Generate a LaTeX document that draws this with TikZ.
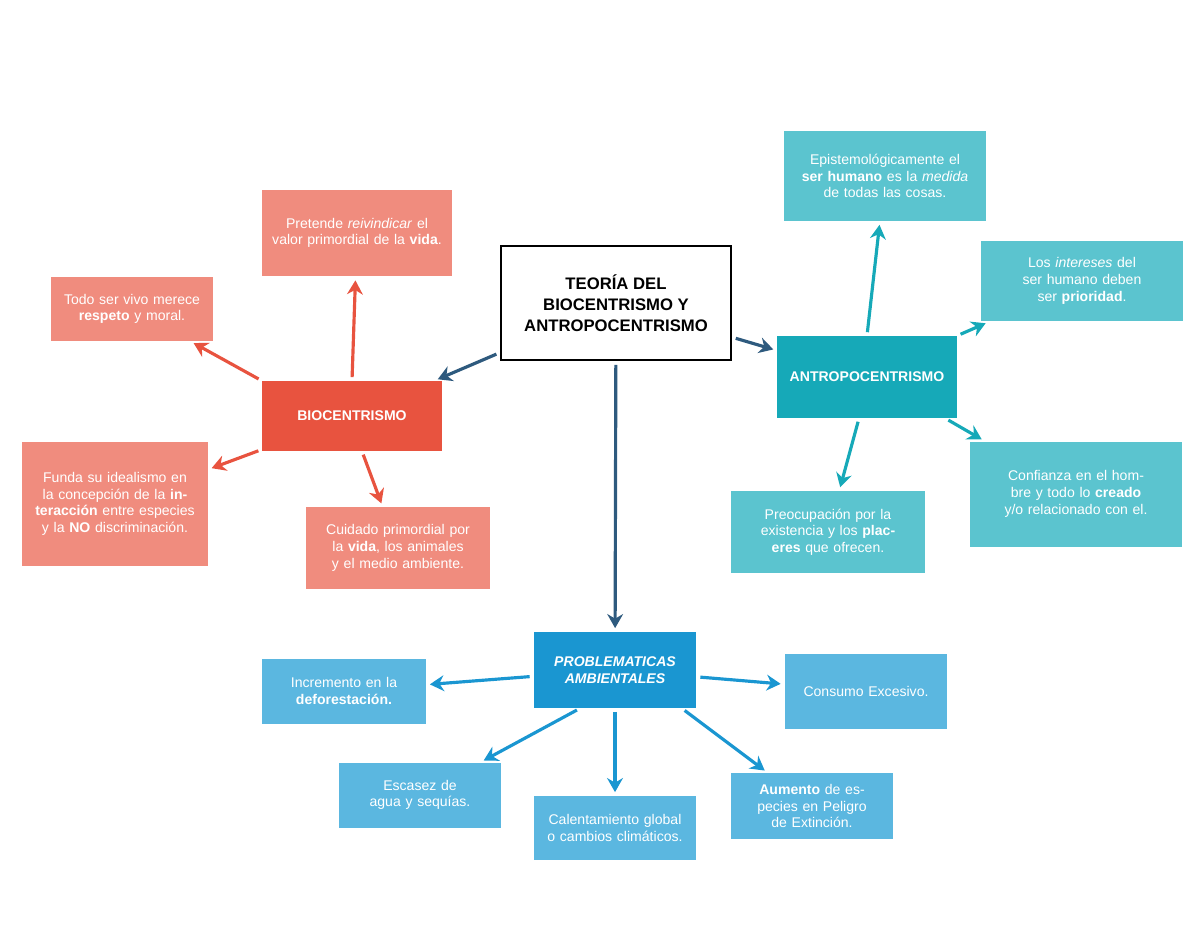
\documentclass[tikz,border=0pt]{standalone}
\usepackage{fontspec}
\setmainfont{Liberation Sans}
\usetikzlibrary{arrows.meta}
\definecolor{bioc}{HTML}{E8533F}
\definecolor{biol}{HTML}{F08C7E}
\definecolor{antc}{HTML}{16A9B8}
\definecolor{antl}{HTML}{5BC4CF}
\definecolor{proc}{HTML}{1A96D1}
\definecolor{prol}{HTML}{5BB7E0}
\definecolor{tit}{HTML}{2E5A7E}
\tikzset{
  box/.style={draw=none,text=white,align=center,inner sep=0pt,font=\fontsize{8}{9.5}\selectfont},
  arr/.style={line width=1.8pt,-{Stealth[length=8pt,width=9pt]},shorten <=2pt,shorten >=2pt}
}
\begin{document}
\begin{tikzpicture}[x=0.02cm,y=-0.02cm]
\useasboundingbox (0,0) rectangle (1200,927);
% centre
\node[draw=black,line width=1.6pt,fill=white,align=center,minimum width=4.6cm,minimum height=2.28cm,font=\bfseries\fontsize{9.5}{12}\selectfont] (tit) at (616,303) {TEORÍA DEL\\BIOCENTRISMO Y\\ANTROPOCENTRISMO};
\node[box,fill=bioc,minimum width=3.6cm,minimum height=1.4cm,font=\bfseries\fontsize{8}{9.5}\selectfont] (bio) at (352,416) {BIOCENTRISMO};
\node[box,fill=antc,minimum width=3.6cm,minimum height=1.64cm,font=\bfseries\fontsize{8}{9.5}\selectfont] (ant) at (867,377) {ANTROPOCENTRISMO};
\node[box,fill=proc,minimum width=3.26cm,minimum height=1.52cm,font=\bfseries\itshape\fontsize{8}{9.5}\selectfont] (pro) at (615,670) {PROBLEMATICAS\\AMBIENTALES};
% biocentrismo
\node[box,fill=biol,minimum width=3.82cm,minimum height=1.74cm,text width=3.4cm] (pret) at (357,233) {Pretende \emph{reivindicar} el valor primordial de la \textbf{vida}.};
\node[box,fill=biol,minimum width=3.26cm,minimum height=1.28cm,text width=2.9cm] (todo) at (132,309) {Todo ser vivo merece \textbf{respeto} y moral.};
\node[box,fill=biol,minimum width=3.72cm,minimum height=2.5cm,text width=3.4cm] (fund) at (115,504) {Funda su idealismo en la concepción de la \textbf{interacción} entre especies y la \textbf{NO} discriminación.};
\node[box,fill=biol,minimum width=3.7cm,minimum height=1.64cm,text width=3.3cm] (cuid) at (398,548) {Cuidado primordial por la \textbf{vida}, los animales y el medio ambiente.};
% antropocentrismo
\node[box,fill=antl,minimum width=4.04cm,minimum height=1.8cm,text width=3.4cm] (epis) at (885,176) {Epistemológicamente el \textbf{ser humano} es la \emph{medida} de todas las cosas.};
\node[box,fill=antl,minimum width=4.04cm,minimum height=1.62cm,text width=3cm] (inte) at (1082,281) {Los \emph{intereses} del ser humano deben ser \textbf{prioridad}.};
\node[box,fill=antl,minimum width=4.26cm,minimum height=2.1cm,text width=3.6cm] (conf) at (1076,494) {Confianza en el hombre y todo lo \textbf{creado} y/o relacionado con el.};
\node[box,fill=antl,minimum width=3.9cm,minimum height=1.64cm,text width=3.4cm] (preo) at (828,532) {Preocupación por la existencia y los \textbf{placeres} que ofrecen.};
% problematicas
\node[box,fill=prol,minimum width=3.28cm,minimum height=1.3cm,text width=2.9cm] (incr) at (344,691) {Incremento en la \textbf{deforestación.}};
\node[box,fill=prol,minimum width=3.26cm,minimum height=1.5cm,text width=2.9cm] (cons) at (866,691) {Consumo Excesivo.};
\node[box,fill=prol,minimum width=3.26cm,minimum height=1.3cm,text width=2.9cm] (esca) at (420,795) {Escasez de agua y sequías.};
\node[box,fill=prol,minimum width=3.26cm,minimum height=1.28cm,text width=2.9cm] (cale) at (615,828) {Calentamiento global o cambios climáticos.};
\node[box,fill=prol,minimum width=3.26cm,minimum height=1.32cm,text width=2.9cm] (aume) at (812,806) {\textbf{Aumento} de especies en Peligro de Extinción.};

\draw[arr,tit] (tit) -- (bio);
\draw[arr,tit] (tit) -- (ant);
\draw[arr,tit] (tit) -- (pro);
\draw[arr,bioc] (bio.north) -- (pret);
\draw[arr,bioc] (bio.north west) -- (todo);
\draw[arr,bioc] (bio) -- (fund);
\draw[arr,bioc] (bio.south) ++(10,0) -- (cuid);
\draw[arr,antc] (ant.north) -- (epis);
\draw[arr,antc] (ant.north east) -- (inte);
\draw[arr,antc] (ant.south east) ++(-12,0) -- (conf);
\draw[arr,antc] (ant.south) ++(-8,0) -- (preo);
\draw[arr,proc] (pro) -- (incr);
\draw[arr,proc] (pro) -- (cons);
\draw[arr,proc] (pro.south) ++(-35,0) -- (esca);
\draw[arr,proc] (pro) -- (cale);
\draw[arr,proc] (pro.south east) ++(-15,0) -- (aume);
\end{tikzpicture}
\end{document}
